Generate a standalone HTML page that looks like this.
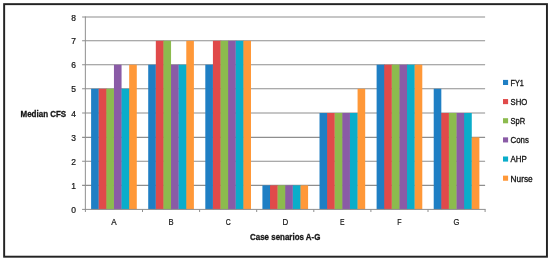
<!DOCTYPE html>
<html lang="en">
<head>
<meta charset="utf-8">
<title>Median CFS by case scenario</title>
<style>
html,body{margin:0;padding:0;background:#fff;}
body{width:550px;height:260px;overflow:hidden;}
svg{display:block;}
text{font-family:"Liberation Sans",Arial,sans-serif;fill:#151515;stroke:#151515;stroke-width:0.22px;}
.b{font-weight:bold;stroke-width:0.3px;}
.l{stroke-width:0.34px;}
</style>
</head>
<body>
<svg xmlns="http://www.w3.org/2000/svg" width="550" height="260" viewBox="0 0 550 260">
<rect x="0" y="0" width="550" height="260" fill="#ffffff"/>
<rect x="4.15" y="4.15" width="542.8" height="252.55" fill="none" stroke="#232323" stroke-width="1.95"/>

<g stroke="#8e8e8e" stroke-width="1.05" fill="none">
<line x1="82.10" y1="185.35" x2="485.10" y2="185.35"/>
<line x1="82.10" y1="161.30" x2="485.10" y2="161.30"/>
<line x1="82.10" y1="137.35" x2="485.10" y2="137.35"/>
<line x1="82.10" y1="113.00" x2="485.10" y2="113.00"/>
<line x1="82.10" y1="88.75" x2="485.10" y2="88.75"/>
<line x1="82.10" y1="64.70" x2="485.10" y2="64.70"/>
<line x1="82.10" y1="40.80" x2="485.10" y2="40.80"/>
<line x1="82.10" y1="16.95" x2="485.10" y2="16.95"/>
</g>
<rect x="91.11" y="88.75" width="7.61" height="120.65" fill="#1f7fc4"/>
<rect x="98.52" y="88.75" width="1.00" height="120.65" fill="#1f7fc4"/>
<rect x="98.72" y="88.75" width="7.61" height="120.65" fill="#e04a4a"/>
<rect x="106.14" y="88.75" width="1.00" height="120.65" fill="#e04a4a"/>
<rect x="106.34" y="88.75" width="7.61" height="120.65" fill="#8cbb4e"/>
<rect x="113.75" y="88.75" width="1.00" height="120.65" fill="#8cbb4e"/>
<rect x="113.95" y="64.70" width="7.61" height="144.70" fill="#8a5ba6"/>
<rect x="121.36" y="88.75" width="1.00" height="120.65" fill="#8a5ba6"/>
<rect x="121.56" y="88.75" width="7.61" height="120.65" fill="#0aadca"/>
<rect x="128.98" y="88.75" width="1.00" height="120.65" fill="#0aadca"/>
<rect x="129.18" y="64.70" width="7.61" height="144.70" fill="#ff9838"/>
<rect x="148.21" y="64.70" width="7.61" height="144.70" fill="#1f7fc4"/>
<rect x="155.62" y="64.70" width="1.00" height="144.70" fill="#1f7fc4"/>
<rect x="155.82" y="40.80" width="7.61" height="168.60" fill="#e04a4a"/>
<rect x="163.24" y="40.80" width="1.00" height="168.60" fill="#e04a4a"/>
<rect x="163.44" y="40.80" width="7.61" height="168.60" fill="#8cbb4e"/>
<rect x="170.85" y="64.70" width="1.00" height="144.70" fill="#8cbb4e"/>
<rect x="171.05" y="64.70" width="7.61" height="144.70" fill="#8a5ba6"/>
<rect x="178.46" y="64.70" width="1.00" height="144.70" fill="#8a5ba6"/>
<rect x="178.66" y="64.70" width="7.61" height="144.70" fill="#0aadca"/>
<rect x="186.08" y="64.70" width="1.00" height="144.70" fill="#0aadca"/>
<rect x="186.28" y="40.80" width="7.61" height="168.60" fill="#ff9838"/>
<rect x="205.31" y="64.70" width="7.61" height="144.70" fill="#1f7fc4"/>
<rect x="212.72" y="64.70" width="1.00" height="144.70" fill="#1f7fc4"/>
<rect x="212.92" y="40.80" width="7.61" height="168.60" fill="#e04a4a"/>
<rect x="220.34" y="40.80" width="1.00" height="168.60" fill="#e04a4a"/>
<rect x="220.54" y="40.80" width="7.61" height="168.60" fill="#8cbb4e"/>
<rect x="227.95" y="40.80" width="1.00" height="168.60" fill="#8cbb4e"/>
<rect x="228.15" y="40.80" width="7.61" height="168.60" fill="#8a5ba6"/>
<rect x="235.56" y="40.80" width="1.00" height="168.60" fill="#8a5ba6"/>
<rect x="235.76" y="40.80" width="7.61" height="168.60" fill="#0aadca"/>
<rect x="243.18" y="40.80" width="1.00" height="168.60" fill="#0aadca"/>
<rect x="243.38" y="40.80" width="7.61" height="168.60" fill="#ff9838"/>
<rect x="262.41" y="185.35" width="7.61" height="24.05" fill="#1f7fc4"/>
<rect x="269.82" y="185.35" width="1.00" height="24.05" fill="#1f7fc4"/>
<rect x="270.02" y="185.35" width="7.61" height="24.05" fill="#e04a4a"/>
<rect x="277.44" y="185.35" width="1.00" height="24.05" fill="#e04a4a"/>
<rect x="277.64" y="185.35" width="7.61" height="24.05" fill="#8cbb4e"/>
<rect x="285.05" y="185.35" width="1.00" height="24.05" fill="#8cbb4e"/>
<rect x="285.25" y="185.35" width="7.61" height="24.05" fill="#8a5ba6"/>
<rect x="292.66" y="185.35" width="1.00" height="24.05" fill="#8a5ba6"/>
<rect x="292.86" y="185.35" width="7.61" height="24.05" fill="#0aadca"/>
<rect x="300.28" y="185.35" width="1.00" height="24.05" fill="#0aadca"/>
<rect x="300.48" y="185.35" width="7.61" height="24.05" fill="#ff9838"/>
<rect x="319.51" y="113.00" width="7.61" height="96.40" fill="#1f7fc4"/>
<rect x="326.92" y="113.00" width="1.00" height="96.40" fill="#1f7fc4"/>
<rect x="327.12" y="113.00" width="7.61" height="96.40" fill="#e04a4a"/>
<rect x="334.54" y="113.00" width="1.00" height="96.40" fill="#e04a4a"/>
<rect x="334.74" y="113.00" width="7.61" height="96.40" fill="#8cbb4e"/>
<rect x="342.15" y="113.00" width="1.00" height="96.40" fill="#8cbb4e"/>
<rect x="342.35" y="113.00" width="7.61" height="96.40" fill="#8a5ba6"/>
<rect x="349.76" y="113.00" width="1.00" height="96.40" fill="#8a5ba6"/>
<rect x="349.96" y="113.00" width="7.61" height="96.40" fill="#0aadca"/>
<rect x="357.38" y="113.00" width="1.00" height="96.40" fill="#0aadca"/>
<rect x="357.58" y="88.75" width="7.61" height="120.65" fill="#ff9838"/>
<rect x="376.61" y="64.70" width="7.61" height="144.70" fill="#1f7fc4"/>
<rect x="384.02" y="64.70" width="1.00" height="144.70" fill="#1f7fc4"/>
<rect x="384.22" y="64.70" width="7.61" height="144.70" fill="#e04a4a"/>
<rect x="391.64" y="64.70" width="1.00" height="144.70" fill="#e04a4a"/>
<rect x="391.84" y="64.70" width="7.61" height="144.70" fill="#8cbb4e"/>
<rect x="399.25" y="64.70" width="1.00" height="144.70" fill="#8cbb4e"/>
<rect x="399.45" y="64.70" width="7.61" height="144.70" fill="#8a5ba6"/>
<rect x="406.86" y="64.70" width="1.00" height="144.70" fill="#8a5ba6"/>
<rect x="407.06" y="64.70" width="7.61" height="144.70" fill="#0aadca"/>
<rect x="414.48" y="64.70" width="1.00" height="144.70" fill="#0aadca"/>
<rect x="414.68" y="64.70" width="7.61" height="144.70" fill="#ff9838"/>
<rect x="433.71" y="88.75" width="7.61" height="120.65" fill="#1f7fc4"/>
<rect x="441.12" y="113.00" width="1.00" height="96.40" fill="#1f7fc4"/>
<rect x="441.32" y="113.00" width="7.61" height="96.40" fill="#e04a4a"/>
<rect x="448.74" y="113.00" width="1.00" height="96.40" fill="#e04a4a"/>
<rect x="448.94" y="113.00" width="7.61" height="96.40" fill="#8cbb4e"/>
<rect x="456.35" y="113.00" width="1.00" height="96.40" fill="#8cbb4e"/>
<rect x="456.55" y="113.00" width="7.61" height="96.40" fill="#8a5ba6"/>
<rect x="463.96" y="113.00" width="1.00" height="96.40" fill="#8a5ba6"/>
<rect x="464.16" y="113.00" width="7.61" height="96.40" fill="#0aadca"/>
<rect x="471.58" y="137.35" width="1.00" height="72.05" fill="#0aadca"/>
<rect x="471.78" y="137.35" width="7.61" height="72.05" fill="#ff9838"/>
<g stroke="#8e8e8e" stroke-width="1.0" fill="none">
<line x1="85.35" y1="16.45" x2="85.35" y2="209.90" stroke-width="1"/>
<line x1="82.10" y1="209.40" x2="485.60" y2="209.40"/>
<line x1="85.40" y1="209.40" x2="85.40" y2="212.00"/>
<line x1="142.50" y1="209.40" x2="142.50" y2="212.00"/>
<line x1="199.60" y1="209.40" x2="199.60" y2="212.00"/>
<line x1="256.70" y1="209.40" x2="256.70" y2="212.00"/>
<line x1="313.80" y1="209.40" x2="313.80" y2="212.00"/>
<line x1="370.90" y1="209.40" x2="370.90" y2="212.00"/>
<line x1="428.00" y1="209.40" x2="428.00" y2="212.00"/>
<line x1="485.10" y1="209.40" x2="485.10" y2="212.00"/>
</g>
<text x="71.15" y="213.00" font-size="8.9" textLength="4.73" lengthAdjust="spacingAndGlyphs">0</text>
<text x="71.15" y="188.95" font-size="8.9" textLength="4.73" lengthAdjust="spacingAndGlyphs">1</text>
<text x="71.15" y="164.90" font-size="8.9" textLength="4.73" lengthAdjust="spacingAndGlyphs">2</text>
<text x="71.15" y="140.95" font-size="8.9" textLength="4.73" lengthAdjust="spacingAndGlyphs">3</text>
<text x="71.15" y="116.60" font-size="8.9" textLength="4.73" lengthAdjust="spacingAndGlyphs">4</text>
<text x="71.15" y="92.35" font-size="8.9" textLength="4.73" lengthAdjust="spacingAndGlyphs">5</text>
<text x="71.15" y="68.30" font-size="8.9" textLength="4.73" lengthAdjust="spacingAndGlyphs">6</text>
<text x="71.15" y="44.40" font-size="8.9" textLength="4.73" lengthAdjust="spacingAndGlyphs">7</text>
<text x="71.15" y="20.55" font-size="8.9" textLength="4.73" lengthAdjust="spacingAndGlyphs">8</text>
<text x="111.25" y="224.7" font-size="8.9" textLength="5.40" lengthAdjust="spacingAndGlyphs">A</text>
<text x="168.51" y="224.7" font-size="8.9" textLength="5.08" lengthAdjust="spacingAndGlyphs">B</text>
<text x="225.66" y="224.7" font-size="8.9" textLength="4.98" lengthAdjust="spacingAndGlyphs">C</text>
<text x="282.38" y="224.7" font-size="8.9" textLength="5.74" lengthAdjust="spacingAndGlyphs">D</text>
<text x="340.07" y="224.7" font-size="8.9" textLength="4.56" lengthAdjust="spacingAndGlyphs">E</text>
<text x="397.31" y="224.7" font-size="8.9" textLength="4.29" lengthAdjust="spacingAndGlyphs">F</text>
<text x="453.61" y="224.7" font-size="8.9" textLength="5.89" lengthAdjust="spacingAndGlyphs">G</text>
<text class="b" x="20.5" y="116.9" font-size="8.9" textLength="45.7" lengthAdjust="spacingAndGlyphs">Median CFS</text>
<text class="b" x="250" y="239.8" font-size="8.9" textLength="70.4" lengthAdjust="spacingAndGlyphs">Case senarios A-G</text>
<rect x="503" y="79.90" width="5.1" height="5.1" fill="#1f7fc4"/>
<text class="l" x="510.6" y="85.80" font-size="8.9" textLength="13.2" lengthAdjust="spacingAndGlyphs">FY1</text>
<rect x="503" y="99.05" width="5.1" height="5.1" fill="#e04a4a"/>
<text class="l" x="510.6" y="104.95" font-size="8.9" textLength="16.7" lengthAdjust="spacingAndGlyphs">SHO</text>
<rect x="503" y="118.20" width="5.1" height="5.1" fill="#8cbb4e"/>
<text class="l" x="510.6" y="124.10" font-size="8.9" textLength="14.6" lengthAdjust="spacingAndGlyphs">SpR</text>
<rect x="503" y="137.35" width="5.1" height="5.1" fill="#8a5ba6"/>
<text class="l" x="510.6" y="143.25" font-size="8.9" textLength="18.3" lengthAdjust="spacingAndGlyphs">Cons</text>
<rect x="503" y="156.50" width="5.1" height="5.1" fill="#0aadca"/>
<text class="l" x="510.6" y="162.40" font-size="8.9" textLength="16.2" lengthAdjust="spacingAndGlyphs">AHP</text>
<rect x="503" y="175.65" width="5.1" height="5.1" fill="#ff9838"/>
<text class="l" x="510.6" y="181.55" font-size="8.9" textLength="22.0" lengthAdjust="spacingAndGlyphs">Nurse</text>
</svg>
</body>
</html>
